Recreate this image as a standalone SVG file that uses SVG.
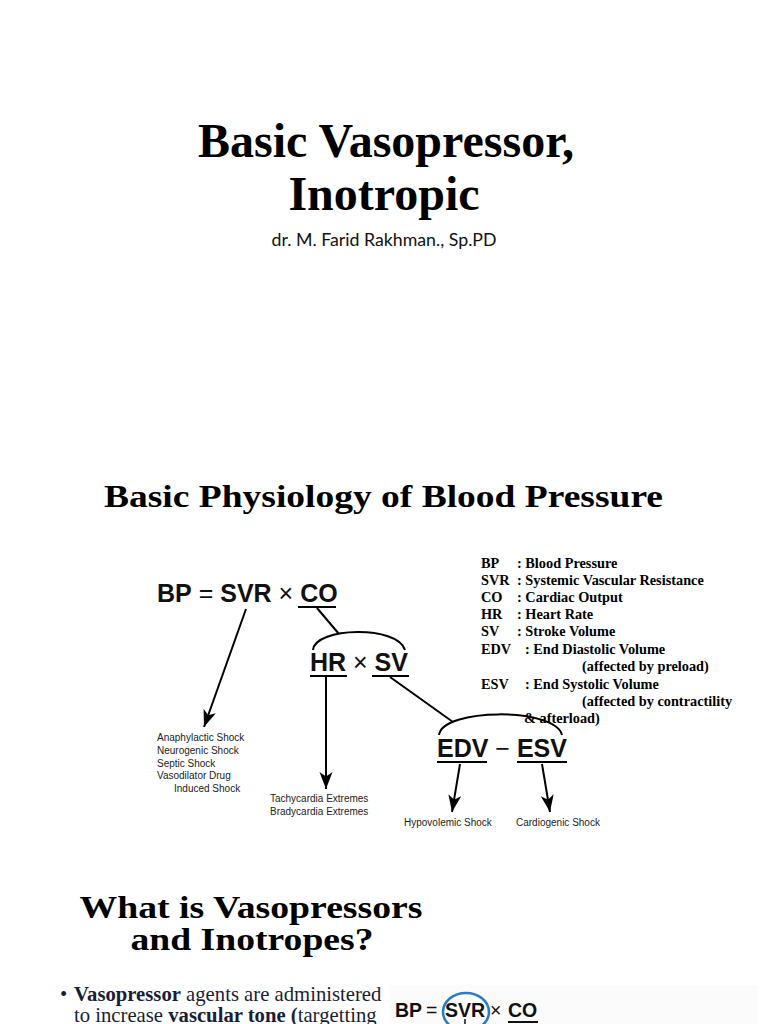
<svg xmlns="http://www.w3.org/2000/svg" width="768" height="1024" viewBox="0 0 768 1024">
<style>
.title{font-family:"Liberation Serif","Times New Roman",serif;font-weight:bold;font-size:48px;fill:#000;text-anchor:middle}
.sub{font-family:Lato,"Liberation Sans",sans-serif;font-size:17px;fill:#111;text-anchor:middle}
.head{font-family:"Liberation Serif","Times New Roman",serif;font-weight:bold;font-size:31px;fill:#000}
.f{font-family:"Liberation Sans",Arial,sans-serif;font-weight:bold;font-size:25px;fill:#111}
.op{font-weight:normal}
.lbl{font-family:"Liberation Sans",Arial,sans-serif;font-size:10px;fill:#222}
.leg{font-family:"Liberation Serif","Times New Roman",serif;font-weight:bold;font-size:14.3px;fill:#000}
.body{font-family:"Liberation Serif","Times New Roman",serif;font-size:20.7px;fill:#1a1d35}
.ln{stroke:#000;stroke-width:2;fill:none}
.arr{stroke:#000;stroke-width:2;fill:none;marker-end:url(#ah)}
</style>
<defs>
<marker id="ah" markerUnits="userSpaceOnUse" markerWidth="18" markerHeight="14" refX="17" refY="7" orient="auto">
<path d="M0,0.5 L17,7 L0,13.5 L4.5,7 z" fill="#000"/>
</marker>
</defs>
<rect width="768" height="1024" fill="#fff"/>

<g id="title">
<text class="title" x="386" y="157">Basic Vasopressor,</text>
<text class="title" x="384" y="210">Inotropic</text>
<text class="sub" x="384" y="246" textLength="225" lengthAdjust="spacingAndGlyphs">dr. M. Farid Rakhman., Sp.PD</text>
</g>

<g id="heading-physiology">
<text class="head" x="104" y="507" textLength="559" lengthAdjust="spacingAndGlyphs">Basic Physiology of Blood Pressure</text>
</g>

<g id="node-bp">
<text class="f" x="157" y="602">BP<tspan class="op"> = </tspan>SVR<tspan class="op"> × </tspan>CO</text>
<line class="ln" x1="298" y1="607" x2="336" y2="607"/>
</g>

<g id="node-hrsv">
<text class="f" x="310" y="671">HR<tspan class="op"> × </tspan>SV</text>
<line class="ln" x1="310" y1="676" x2="347" y2="676"/>
<line class="ln" x1="372" y1="676" x2="409" y2="676"/>
</g>

<g id="node-edvesv">
<text class="f" x="437" y="757">EDV<tspan class="op"> − </tspan>ESV</text>
<line class="ln" x1="437" y1="762" x2="487" y2="762"/>
<line class="ln" x1="517" y1="762" x2="567" y2="762"/>
</g>

<g id="node-svr-causes">
<text class="lbl" x="157" y="741">Anaphylactic Shock</text>
<text class="lbl" x="157" y="754">Neurogenic Shock</text>
<text class="lbl" x="157" y="767">Septic Shock</text>
<text class="lbl" x="157" y="779">Vasodilator Drug</text>
<text class="lbl" x="174" y="792">Induced Shock</text>
</g>

<g id="node-hr-causes">
<text class="lbl" x="270" y="802">Tachycardia Extremes</text>
<text class="lbl" x="270" y="815">Bradycardia Extremes</text>
</g>

<g id="node-hypovolemic">
<text class="lbl" x="404" y="826">Hypovolemic Shock</text>
</g>
<g id="node-cardiogenic">
<text class="lbl" x="516" y="826">Cardiogenic Shock</text>
</g>

<g id="legend">
<text class="leg" x="481" y="568">BP</text><text class="leg" x="517" y="568">: Blood Pressure</text>
<text class="leg" x="481" y="585">SVR</text><text class="leg" x="517" y="585">: Systemic Vascular Resistance</text>
<text class="leg" x="481" y="602">CO</text><text class="leg" x="517" y="602">: Cardiac Output</text>
<text class="leg" x="481" y="619">HR</text><text class="leg" x="517" y="619">: Heart Rate</text>
<text class="leg" x="481" y="636">SV</text><text class="leg" x="517" y="636">: Stroke Volume</text>
<text class="leg" x="481" y="654">EDV</text><text class="leg" x="525" y="654">: End Diastolic Volume</text>
<text class="leg" x="582" y="671">(affected by preload)</text>
<text class="leg" x="481" y="689">ESV</text><text class="leg" x="525" y="689">: End Systolic Volume</text>
<text class="leg" x="582" y="706">(affected by contractility</text>
<text class="leg" x="524" y="723">&amp; afterload)</text>
</g>

<g id="connectors">
<line class="arr" x1="246" y1="609" x2="204" y2="727"/>
<line class="ln" x1="317" y1="608" x2="339" y2="634"/>
<path class="ln" d="M313,650 C315,627 398,625 405,650"/>
<line class="arr" x1="326" y1="677" x2="326" y2="789"/>
<line class="ln" x1="390" y1="677" x2="453" y2="722"/>
<path class="ln" d="M439,735 C442,708 555,707 562,735"/>
<line class="arr" x1="460" y1="764" x2="452" y2="812"/>
<line class="arr" x1="542" y1="764" x2="550" y2="812"/>
</g>

<g id="heading-what">
<text class="head" x="251" y="918" font-size="29" text-anchor="middle" textLength="343" lengthAdjust="spacingAndGlyphs">What is Vasopressors</text>
<text class="head" x="252" y="950" font-size="29" text-anchor="middle" textLength="243" lengthAdjust="spacingAndGlyphs">and Inotropes?</text>
</g>

<g id="bullet-text">
<text class="body" x="60" y="1001" font-size="17">•</text>
<text class="body" x="74" y="1001"><tspan font-weight="bold">Vasopressor</tspan> agents are administered</text>
<text class="body" x="74" y="1022">to increase <tspan font-weight="bold">vascular tone (</tspan>targetting</text>
</g>

<g id="node-bp-small">
<rect x="390" y="985" width="368" height="39" fill="#fbfbfb"/>
<text font-family="Liberation Sans, Arial, sans-serif" font-weight="bold" font-size="19.5" fill="#111" x="395" y="1017">BP</text>
<text font-family="Liberation Sans, Arial, sans-serif" font-size="19.5" fill="#111" x="426" y="1017">=</text>
<text font-family="Liberation Sans, Arial, sans-serif" font-weight="bold" font-size="19.5" fill="#111" x="445" y="1017">SVR</text>
<text font-family="Liberation Sans, Arial, sans-serif" font-size="19.5" fill="#111" x="490" y="1017">×</text>
<text font-family="Liberation Sans, Arial, sans-serif" font-weight="bold" font-size="19.5" fill="#111" x="508" y="1017">CO</text>
<line x1="508" y1="1022" x2="538" y2="1022" stroke="#111" stroke-width="2"/>
<ellipse cx="466" cy="1012" rx="23" ry="19" fill="none" stroke="#2a7bc8" stroke-width="2.5"/>
<line x1="465" y1="1019" x2="465" y2="1024" stroke="#111" stroke-width="1.5"/>
</g>
</svg>
